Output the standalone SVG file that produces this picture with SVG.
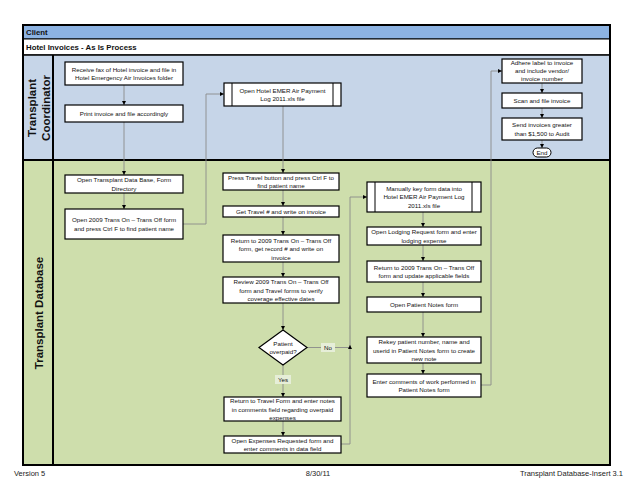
<svg xmlns="http://www.w3.org/2000/svg" width="638" height="493" viewBox="0 0 638 493">
<style>
.box{fill:#fff;stroke:#000;stroke-width:1.2}
.t{font-family:"Liberation Sans",Arial,sans-serif;font-size:6.2px;text-anchor:middle;fill:#111}
.h{font-family:"Liberation Sans",Arial,sans-serif;font-weight:bold;font-size:7.8px;fill:#111}
.lane{font-family:"Liberation Sans",Arial,sans-serif;font-weight:bold;font-size:11.5px;text-anchor:middle;fill:#111}
.ft{font-family:"Liberation Sans",Arial,sans-serif;font-size:7.5px;fill:#222}
.c{fill:none;stroke:#8a8a8a;stroke-width:0.9;marker-end:url(#ah)}
.lbl{font-family:"Liberation Sans",Arial,sans-serif;font-size:6.2px;text-anchor:middle;fill:#111}
</style>
<defs>
<marker id="ah" markerWidth="5" markerHeight="5" refX="4" refY="2.5" orient="auto" markerUnits="userSpaceOnUse">
<path d="M0,0.5 L4,2.5 L0,4.5 Z" fill="#000"/>
</marker>
</defs>
<rect width="638" height="493" fill="#fff"/>
<g id="header">
<rect x="23" y="25" width="587" height="14" fill="#8DB3E2" stroke="#000" stroke-width="1"/>
<text class="h" x="26" y="35">Client</text>
<rect x="23" y="39" width="587" height="16" fill="#fff" stroke="#000" stroke-width="1"/>
<text class="h" x="26" y="50">Hotel Invoices - As Is Process</text>
</g>
<g id="lane-coordinator">
<rect x="23" y="55" width="587" height="105" fill="#C6D5E8"/>
<text class="lane" transform="translate(36,108) rotate(-90)">Transplant</text>
<text class="lane" transform="translate(50,108) rotate(-90)">Coordinator</text>
</g>
<g id="lane-database">
<rect x="23" y="160" width="587" height="305" fill="#CEDEAC"/>
<text class="lane" transform="translate(43,313) rotate(-90)">Transplant Database</text>
</g>
<g id="frame" fill="none" stroke="#000">
<rect x="23" y="25" width="587" height="440" stroke-width="2"/>
<line x1="23" y1="55" x2="610" y2="55" stroke-width="1.5"/>
<line x1="23" y1="160" x2="610" y2="160" stroke-width="1.8"/>
<line x1="53" y1="55" x2="53" y2="465" stroke-width="2"/>
</g>
<g id="connectors">
<path class="c" d="M124,85 V105"/>
<path class="c" d="M124,122 V175"/>
<path class="c" d="M124,193 V209"/>
<path class="c" d="M183,224 H206 V94 H224"/>
<path class="c" d="M283,106 V173"/>
<path class="c" d="M283,190 V206"/>
<path class="c" d="M283,217 V235"/>
<path class="c" d="M283,262 V277"/>
<path class="c" d="M283,303 V330"/>
<path class="c" d="M283,365 V397"/>
<path class="c" d="M283,421 V436"/>
<path class="c" d="M341,444 H350 V197 H367"/>
<path class="c" d="M307,347.5 H350 V345"/>
<path class="c" d="M423,212 V227"/>
<path class="c" d="M423,245 V261"/>
<path class="c" d="M423,282 V297"/>
<path class="c" d="M423,312 V337"/>
<path class="c" d="M423,363 V374"/>
<path class="c" d="M481,385 H491 V71 H502"/>
<path class="c" d="M542,83 V93"/>
<path class="c" d="M542,108 V118"/>
<path class="c" d="M542,140 V148"/>
<rect x="321" y="343" width="14" height="9" fill="#E6EED8"/>
<text class="lbl" x="328" y="350">No</text>
<rect x="275" y="375" width="16" height="9" fill="#E6EED8"/>
<text class="lbl" x="283" y="382">Yes</text>
</g>
<g id="n-receive-fax"><rect class="box" x="65" y="62" width="118" height="23"/><text class="t" x="124" y="71.5">Receive fax of Hotel invoice and file in</text><text class="t" x="124" y="80">Hotel Emergency Air Invoices folder</text></g>
<g id="n-print"><rect class="box" x="65" y="105" width="118" height="17"/><text class="t" x="124" y="115.7">Print invoice and file accordingly</text></g>
<g id="n-open-log"><rect class="box" x="224" y="83" width="117" height="23"/><line x1="232" y1="83" x2="232" y2="106" stroke="#000" stroke-width="1"/><line x1="333" y1="83" x2="333" y2="106" stroke="#000" stroke-width="1"/><text class="t" x="282.5" y="92.5">Open Hotel EMER Air Payment</text><text class="t" x="282.5" y="101">Log 2011.xls file</text></g>
<g id="n-adhere"><rect class="box" x="502" y="59" width="80" height="24"/><text class="t" x="542" y="64.8">Adhere label to invoice</text><text class="t" x="542" y="73">and include vendor/</text><text class="t" x="542" y="81.2">invoice number</text></g>
<g id="n-scan"><rect class="box" x="502" y="93" width="80" height="15"/><text class="t" x="542" y="102.7">Scan and file invoice</text></g>
<g id="n-send"><rect class="box" x="502" y="118" width="80" height="22"/><text class="t" x="542" y="127">Send invoices greater</text><text class="t" x="542" y="135.5">than $1,500 to Audit</text></g>
<g id="n-end"><rect x="533" y="148" width="18" height="9" rx="4.5" fill="#fff" stroke="#000" stroke-width="1"/><text class="t" x="542" y="155">End</text></g>
<g id="n-open-db"><rect class="box" x="65" y="175" width="118" height="18"/><text class="t" x="124" y="182.2">Open Transplant Data Base, Form</text><text class="t" x="124" y="190.5">Directory</text></g>
<g id="n-open-2009"><rect class="box" x="65" y="209" width="118" height="30"/><text class="t" x="124" y="222">Open 2009 Trans On – Trans Off  form</text><text class="t" x="124" y="230.5">and press Ctrl F to find patient name</text></g>
<g id="n-press-travel"><rect class="box" x="223" y="173" width="116" height="17"/><text class="t" x="281" y="179.5">Press Travel button and press Ctrl F to</text><text class="t" x="281" y="188">find patient name</text></g>
<g id="n-get-travel"><rect class="box" x="223" y="206" width="116" height="11"/><text class="t" x="281" y="213.7">Get Travel # and write on invoice</text></g>
<g id="n-return-1"><rect class="box" x="223" y="235" width="116" height="27"/><text class="t" x="281" y="242.5">Return to 2009 Trans On – Trans Off</text><text class="t" x="281" y="251">form, get record # and write on</text><text class="t" x="281" y="259.5">invoice</text></g>
<g id="n-review"><rect class="box" x="223" y="277" width="116" height="26"/><text class="t" x="281" y="284">Review 2009 Trans On – Trans Off</text><text class="t" x="281" y="292.5">form and Travel forms to verify</text><text class="t" x="281" y="301">coverage effective dates</text></g>
<g id="n-overpaid"><path d="M283,330 L307,347.5 L283,365 L259,347.5 Z" fill="#fff" stroke="#000" stroke-width="1.2"/><text class="t" x="283" y="345.5">Patient</text><text class="t" x="283" y="354">overpaid?</text></g>
<g id="n-return-travel"><rect class="box" x="224" y="397" width="117" height="24"/><text class="t" x="282.5" y="403.2">Return to Travel Form and enter notes</text><text class="t" x="282.5" y="411.5">in comments field regarding overpaid</text><text class="t" x="282.5" y="419.8">expenses</text></g>
<g id="n-open-expenses"><rect class="box" x="224" y="436" width="117" height="17"/><text class="t" x="282.5" y="442.5">Open Expenses Requested form and</text><text class="t" x="282.5" y="451">enter comments in data field</text></g>
<g id="n-manually-key"><rect class="box" x="367" y="182" width="114" height="30"/><line x1="375" y1="182" x2="375" y2="212" stroke="#000" stroke-width="1"/><line x1="472" y1="182" x2="472" y2="212" stroke="#000" stroke-width="1"/><text class="t" x="424" y="190.7">Manually key form data into</text><text class="t" x="424" y="199.2">Hotel EMER Air Payment Log</text><text class="t" x="424" y="207.7">2011.xls file</text></g>
<g id="n-lodging"><rect class="box" x="367" y="227" width="114" height="18"/><text class="t" x="424" y="234">Open Lodging Request form and enter</text><text class="t" x="424" y="242.5">lodging expense</text></g>
<g id="n-return-2"><rect class="box" x="367" y="261" width="114" height="21"/><text class="t" x="424" y="269.5">Return to 2009 Trans On – Trans Off</text><text class="t" x="424" y="278">form and update applicable fields</text></g>
<g id="n-patient-notes"><rect class="box" x="367" y="297" width="114" height="15"/><text class="t" x="424" y="306.7">Open Patient Notes form</text></g>
<g id="n-rekey"><rect class="box" x="367" y="337" width="114" height="26"/><text class="t" x="424" y="344">Rekey patient number, name and</text><text class="t" x="424" y="352.5">userid in Patient Notes form to create</text><text class="t" x="424" y="361">new note</text></g>
<g id="n-enter-comments"><rect class="box" x="367" y="374" width="114" height="23"/><text class="t" x="424" y="383.5">Enter comments of work performed in</text><text class="t" x="424" y="392">Patient Notes form</text></g>
<g id="footer">
<text class="ft" x="14" y="476">Version 5</text>
<text class="ft" x="318" y="476" text-anchor="middle">8/30/11</text>
<text class="ft" x="623" y="476" text-anchor="end">Transplant Database-Insert 3.1</text>
</g>
</svg>
